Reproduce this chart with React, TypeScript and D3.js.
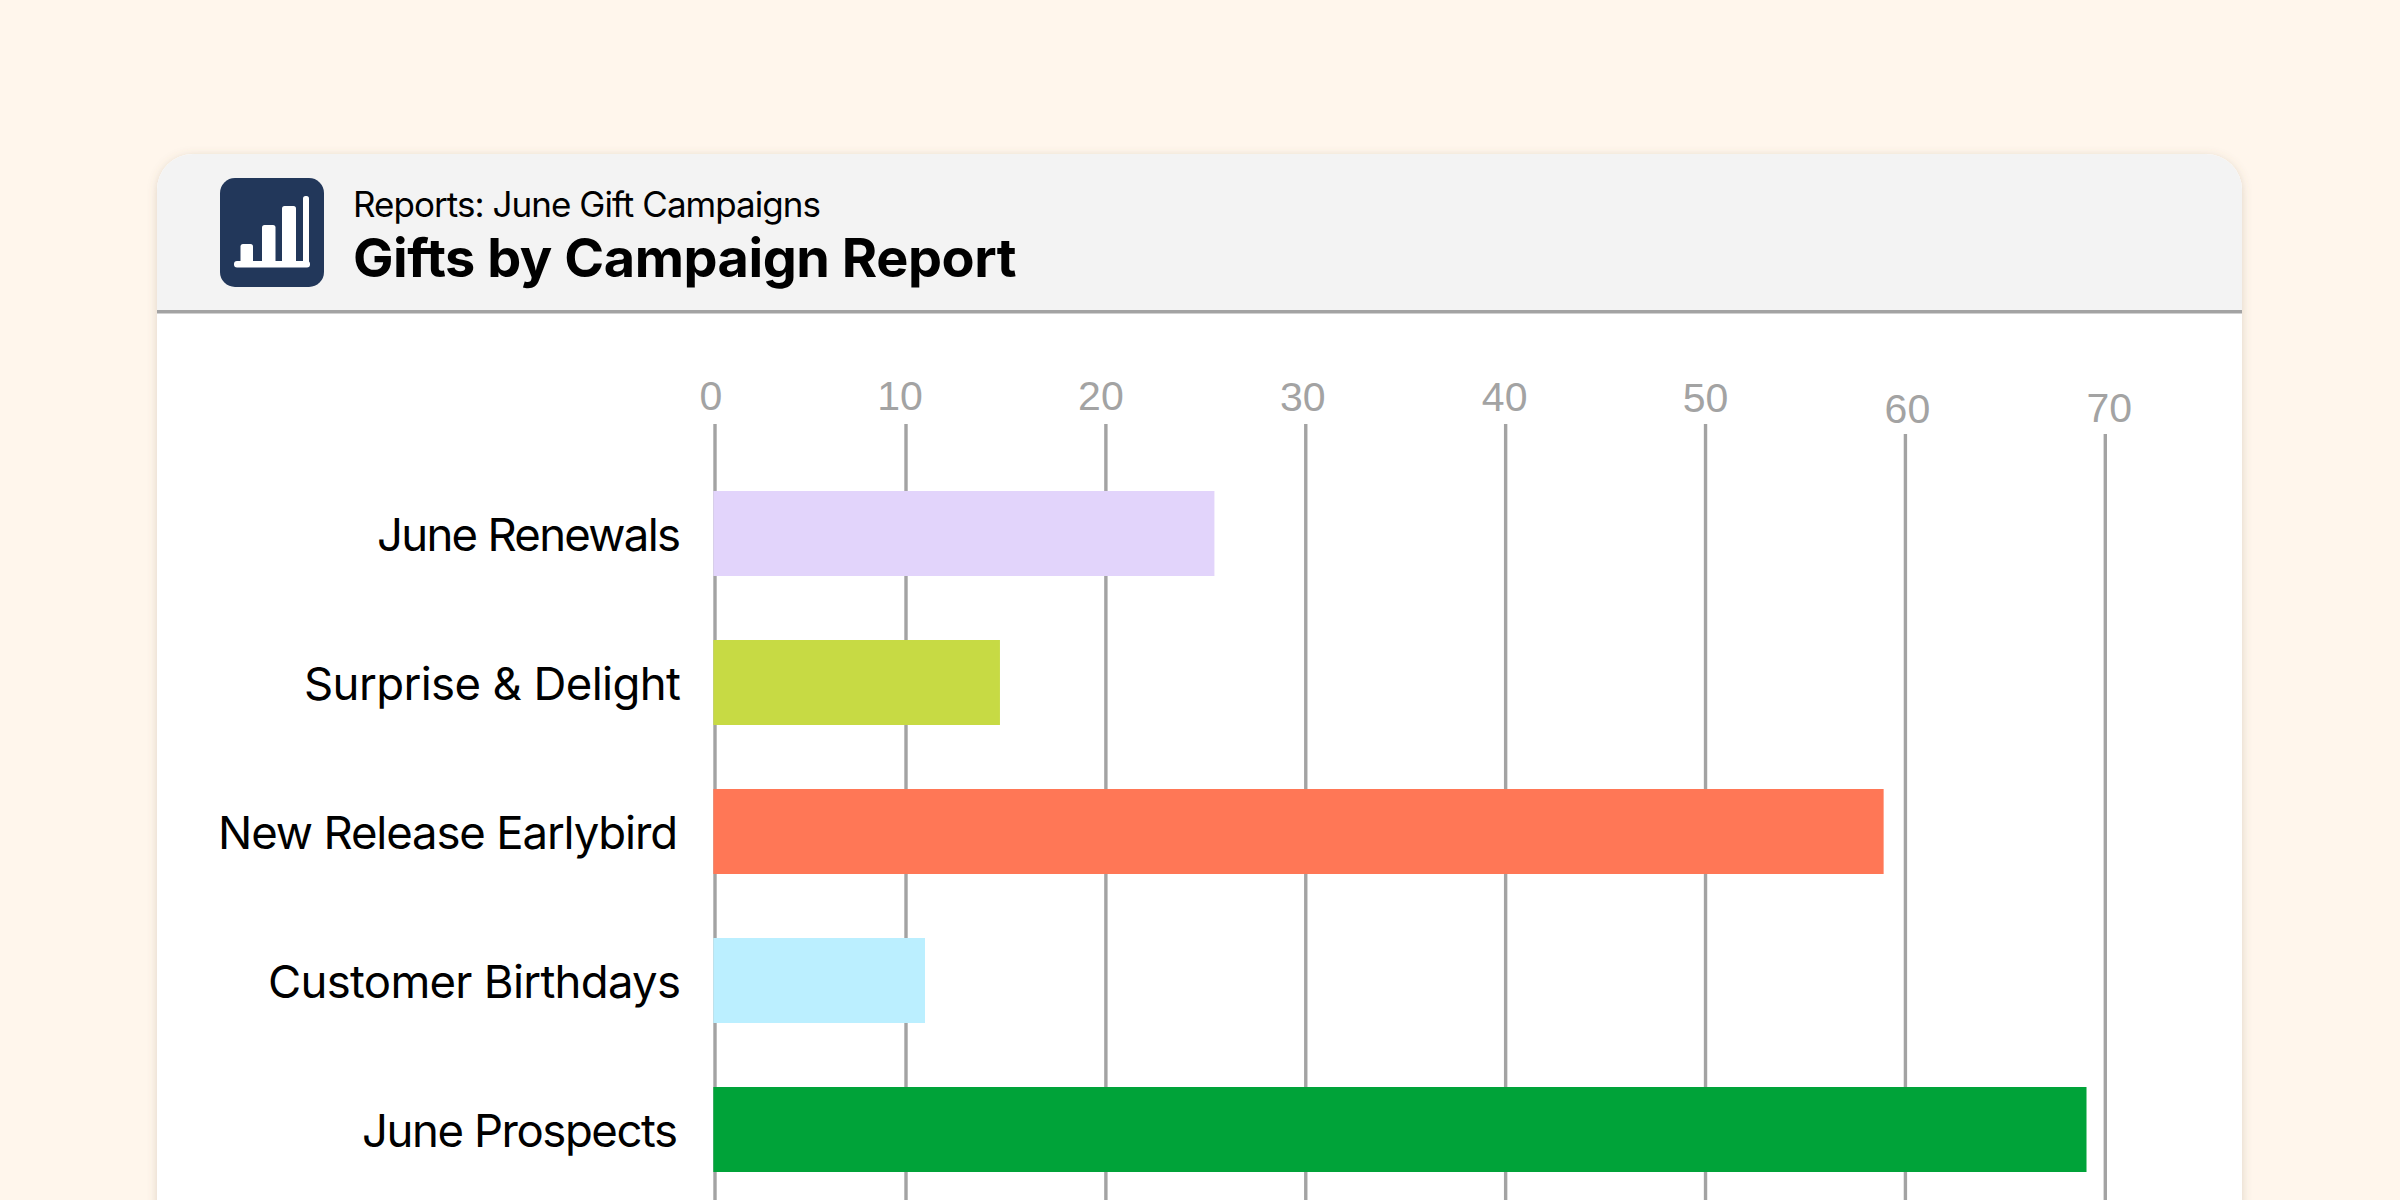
import * as d3 from "d3";

const categories = [
  "June Renewals",
  "Surprise & Delight",
  "New Release Earlybird",
  "Customer Birthdays",
  "June Prospects",
];
const giftValues = [25.43, 14.7, 58.91, 10.95, 69.06];
const barColors = ["#e2d4fb", "#c7da44", "#ff7756", "#bbefff", "#00a339"];
const tickValues = [0, 10, 20, 30, 40, 50, 60, 70];
const reportKicker = "Reports: June Gift Campaigns";
const reportTitle = "Gifts by Campaign Report";

const grey = "#a3a3a3";
const sansFont = "Inter, 'Liberation Sans', sans-serif";

// the source picture spaces 0-10 a little tighter than the other ticks
const x = d3.scaleLinear().domain([0, 10, 70]).range([715, 906, 2105.3]);
const y = d3.scaleBand<string>().domain(categories).range([491, 1172]).paddingInner(64 / 149);

// hand placed look of the source axis
const labelNudge = [-4, -6, -5, -3, -1, 0, 2, 4];
const labelBaseline = [410, 410, 410, 411, 411, 412, 423, 422];
const gridTop = [424, 424, 424, 424, 424, 424, 434, 434];
const labelRight = [681, 681, 678, 681, 678];
// Inter runs wider than the original face, so each label is fitted to its measured width
const labelWidth = [304, 377, 460, 413, 316];

const iconBars = [
  { x: 240.5, w: 12.5, top: 244 },
  { x: 262, w: 13.5, top: 225 },
  { x: 282, w: 14, top: 206 },
  { x: 303, w: 6, top: 196 },
];

const cardPath = "M157 1260V190a36 36 0 0 1 36-36H2206a36 36 0 0 1 36 36V1260Z";

export default function App() {
  return (
    <div>
      <style>{`body{margin:0;overflow:hidden}`}</style>
      <svg width={2400} height={1200} style={{ display: "block" }}>
        <defs>
          <filter id="cardShadow" x="-5%" y="-5%" width="110%" height="110%">
            <feDropShadow dx="0" dy="2" stdDeviation="5" floodColor="#7a6a50" floodOpacity="0.25" />
          </filter>
          <clipPath id="cardClip">
            <path d={cardPath} />
          </clipPath>
        </defs>
        <rect width={2400} height={1200} fill="#fff6ec" />

        <path d={cardPath} fill="#fff" filter="url(#cardShadow)" />
        <g clipPath="url(#cardClip)">
          <rect x={157} y={154} width={2085} height={157} fill="#f3f3f3" />
          <rect x={157} y={310} width={2085} height={3.5} fill={grey} />
        </g>

        <rect x={220} y={178} width={104} height={109} rx={15} fill="#22375a" />
        <rect x={234} y={261} width={76} height={6.5} rx={3} fill="#fff" />
        {iconBars.map((b) => (
          <rect key={b.x} x={b.x} y={b.top} width={b.w} height={264 - b.top} rx={2.5} fill="#fff" />
        ))}

        <text x={353} y={217} fontFamily={sansFont} fontSize={35} letterSpacing={-0.95} fill="#000">
          {reportKicker}
        </text>
        <text x={353} y={277} fontFamily={sansFont} fontSize={54} fontWeight={700} letterSpacing={-0.45} fill="#000">
          {reportTitle}
        </text>

        {tickValues.map((t, i) => (
          <g key={t}>
            <line x1={x(t)} x2={x(t)} y1={gridTop[i]} y2={1200} stroke={grey} strokeWidth={3.4} />
            <text
              x={x(t) + labelNudge[i]}
              y={labelBaseline[i]}
              textAnchor="middle"
              fontFamily="'Liberation Sans', Arial, sans-serif"
              fontSize={41}
              fill={grey}
            >
              {t}
            </text>
          </g>
        ))}

        {categories.map((c, i) => (
          <g key={c}>
            <rect
              x={x(0) - 1.7}
              y={y(c)}
              width={x(giftValues[i]) - x(0) + 1.7}
              height={y.bandwidth()}
              fill={barColors[i]}
            />
            <text
              x={labelRight[i] - labelWidth[i]}
              y={(y(c) as number) + y.bandwidth() / 2 + 17.5}
              textLength={labelWidth[i]}
              lengthAdjust="spacing"
              fontFamily={sansFont}
              fontSize={45.5}
              fill="#000"
            >
              {c}
            </text>
          </g>
        ))}
      </svg>
    </div>
  );
}
